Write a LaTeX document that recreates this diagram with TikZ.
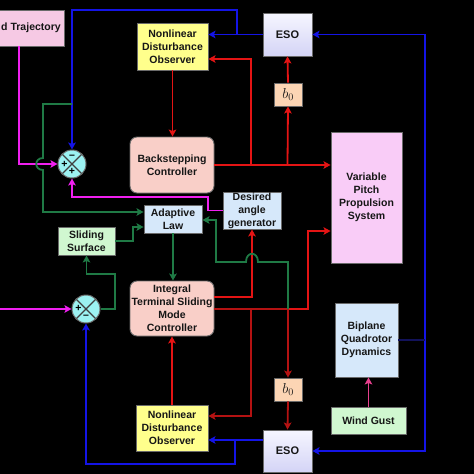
\documentclass[tikz,border=0pt]{standalone}
\usepackage{fontspec}
\setmainfont{Liberation Sans}
\usetikzlibrary{arrows.meta}
\definecolor{trajpink}{HTML}{F6C9E4}
\definecolor{ndoyel}{HTML}{FFFF8C}
\definecolor{esotop}{HTML}{F6F6FF}
\definecolor{esobot}{HTML}{D4D4F6}
\definecolor{bzero}{HTML}{FCD5B4}
\definecolor{ctrlfill}{HTML}{F9CFC8}
\definecolor{vppsfill}{HTML}{F9CCF7}
\definecolor{sumfill}{HTML}{9CF2F2}
\definecolor{lblue}{HTML}{D6E8FA}
\definecolor{lgreen}{HTML}{D0F7D0}
\definecolor{bordergray}{HTML}{6A6A6A}
\definecolor{bline}{HTML}{1414E6}
\definecolor{rline}{HTML}{E41414}
\definecolor{drline}{HTML}{B41212}
\definecolor{mline}{HTML}{F020F0}
\definecolor{gline}{HTML}{1F7A45}
\definecolor{wline}{HTML}{E8408E}
\definecolor{navyline}{HTML}{12125A}
\definecolor{txt}{HTML}{161616}
\begin{document}
\begin{tikzpicture}[x=1pt,y=-1pt,
  box/.style={draw=bordergray, line width=0.9pt, text=txt, align=center, inner sep=0pt,
    font=\fontsize{10.5}{13}\selectfont\bfseries},
  rbox/.style={box, rounded corners=7pt},
  sumnode/.style={circle, draw=bordergray, line width=1pt, fill=sumfill, minimum size=28pt, inner sep=0pt,
    path picture={\draw[line width=1.1pt, black!75] (path picture bounding box.north west) -- (path picture bounding box.south east)
      (path picture bounding box.north east) -- (path picture bounding box.south west);}},
  sgn/.style={font=\fontsize{10.5}{10.5}\selectfont\bfseries, text=black, inner sep=0pt},
  tip/.style={-{Stealth[length=7pt,width=7.5pt,inset=1.5pt]}},
  conn/.style={line width=1.8pt},
  bl/.style={conn, bline},
  rl/.style={conn, rline},
  dl/.style={conn, drline},
  ml/.style={conn, mline},
  gl/.style={conn, gline}]
\useasboundingbox (0,0) rectangle (474,474);
\fill[black] (0,0) rectangle (474,474);
\clip (0,0) rectangle (474,474);

% nodes
\node[box, fill=trajpink, minimum width=66pt, minimum height=36pt] (traj) at (31,28) {d Trajectory};
\node[box, fill=ndoyel, minimum width=71pt, minimum height=47pt] (ndo1) at (172.5,46.5) {Nonlinear\\Disturbance\\Observer};
\node[box, top color=esotop, bottom color=esobot, minimum width=49pt, minimum height=43pt, font=\fontsize{11}{13}\selectfont\bfseries] (eso1) at (287.5,34.5) {ESO};
\node[box, fill=bzero, minimum width=28pt, minimum height=23pt, font=\fontsize{14}{14}\selectfont] (b01) at (288,94.5) {$b_0$};
\node[rbox, fill=ctrlfill, minimum width=84pt, minimum height=56pt] (bs) at (172,165) {Backstepping\\Controller};
\node[box, fill=vppsfill, minimum width=71pt, minimum height=131pt] (vpps) at (366.5,197.5) {Variable\\Pitch\\Propulsion\\System};
\node[sumnode] (sum1) at (72,164) {};
\node[box, fill=lblue, minimum width=58pt, minimum height=37pt] (dag) at (252,210.5) {Desired\\angle\\generator};
\node[box, fill=lblue, minimum width=58pt, minimum height=28pt] (al) at (173,219) {Adaptive\\Law};
\node[box, fill=lgreen, minimum width=57pt, minimum height=28pt] (ss) at (86.5,241) {Sliding\\Surface};
\node[sumnode] (sum2) at (86,309) {};
\node[rbox, fill=ctrlfill, minimum width=84pt, minimum height=55pt] (itsmc) at (172,308.5) {Integral\\Terminal Sliding\\Mode\\Controller};
\node[box, fill=ndoyel, minimum width=72pt, minimum height=46pt] (ndo2) at (172,428) {Nonlinear\\Disturbance\\Observer};
\node[box, top color=esotop, bottom color=esobot, minimum width=49pt, minimum height=42pt, font=\fontsize{11}{13}\selectfont\bfseries] (eso2) at (287.5,451) {ESO};
\node[box, fill=bzero, minimum width=28pt, minimum height=23pt, font=\fontsize{14}{14}\selectfont] (b02) at (288,389.5) {$b_0$};
\node[box, fill=lblue, minimum width=63pt, minimum height=74pt] (bqd) at (366.5,340) {Biplane\\Quadrotor\\Dynamics};
\node[box, fill=lgreen, minimum width=75pt, minimum height=27pt] (wg) at (368.5,420.5) {Wind Gust};

% signs
\node[sgn] (s1t) at (72,156.5) {–};
\node[sgn] (s1l) at (64.5,164.5) {+};
\node[sgn] (s1b) at (72,171.5) {+};
\node[sgn] (s2l) at (78.5,308.5) {+};
\node[sgn] (s2b) at (86,316.5) {–};

% coordinates
\coordinate (jb1) at (237,34.5);
\coordinate (jb2) at (235,440);
\coordinate (bus) at (425,340);
\coordinate (gb) at (72,104);
\coordinate (inL) at (0,309);
\coordinate (jr1) at (251,165);
\coordinate (jr2) at (287.5,165);
\coordinate (jd1) at (251,309);
\coordinate (jd2) at (288,309);

% blue
\draw[bl, tip] (eso1.west) -- (ndo1.east |- eso1.west);
\draw[bl, tip] (jb1) -- (237,10) -| (sum1.north);
\draw[bl, tip] (eso2.west |- 0,440) -- (ndo2.east |- 0,440);
\draw[bl, tip] (jb2) -- (235,464) -| (sum2.south);
\draw[bl, tip] (bus) -- (425,34.5) -- (eso1.east);
\draw[bl, tip] (bus) -- (425,451) -- (eso2.east);
\draw[conn, navyline] (bqd.east) -- (bus);

% red
\draw[rl, tip] (bs.east) -- (vpps.west |- bs.east);
\draw[rl, tip] (jr1) -- (251,59) -- (ndo1.east |- 0,59);
\draw[rl, tip] (jr2) -- (b01.south);
\draw[rl, tip] (b01.north) -- (eso1.south);
\draw[rl, tip] (ndo1.south) -- (ndo1.south |- bs.north);
\draw[rl, tip] (itsmc.east |- 0,297) -- (252,297) -- (dag.south);
\draw[dl] (itsmc.east |- 0,309) -- (jd2);
\draw[rl, tip] (jd2) -- (308,309) -- (308,231) -- (vpps.west |- 0,231);
\draw[dl, tip] (jd1) -- (251,416) -- (ndo2.east |- 0,416);
\draw[dl, tip] (jd2) -- (b02.north);
\draw[dl, tip] (b02.south) -- (eso2.north);
\draw[rl, tip] (ndo2.north) -- (ndo2.north |- itsmc.south);

% magenta
\draw[ml, tip] (traj.south -| 19,0) -- (19,164) -- (sum1.west);
\draw[ml, tip] (dag.west) -- (208,210.5) -- (208,197) -| (sum1.south);
\draw[ml, tip] (inL) -- (sum2.west);

% green
\draw[gl, tip] (gb) -- (43,104) -- (43,158) .. controls (34,158) and (34,170) .. (43,170) -- (43,212) -- (al.west |- 0,212);
\draw[gl, tip] (sum2.east) -- (115,309) -- (115,274) -- (86.5,274) -- (ss.south);
\draw[gl, tip] (ss.east) -- (133,241) -- (133,227) -- (al.west |- 0,227);
\draw[gl, tip] (al.south) -- (al.south |- itsmc.north);
\draw[gl, tip] (jd2) -- (288,262) -- (258,262) .. controls (258,251) and (246,251) .. (246,262) -- (216,262) -- (216,220) -- (al.east |- 0,220);

% wind
\draw[conn, wline, tip] (wg.north) -- (wg.north |- bqd.south);
\end{tikzpicture}
\end{document}
